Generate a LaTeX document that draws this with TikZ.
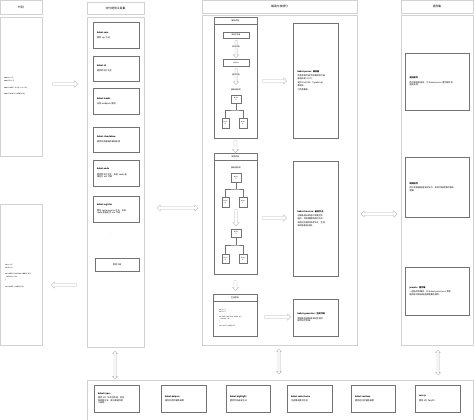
\documentclass[tikz,border=0pt]{standalone}
\usepackage{fontspec}
\setmainfont{Liberation Sans}
\newfontfamily\cjk{Noto Sans CJK SC}
\usetikzlibrary{shapes.arrows,positioning,calc}

\tikzset{
  wh/.style 2 args={minimum width=#1mm,minimum height=#2mm},
  pane/.style={draw=gray!35,line width=2.4pt,inner sep=0pt},
  title/.style={pane,font=\cjk\fontsize{8}{10}\selectfont},
  card/.style={draw=black!55,line width=1.3pt,fill=white,inner sep=0pt,
    align=left,font=\cjk\fontsize{6}{7.5}\selectfont},
  stage/.style={draw=black!55,line width=1.3pt,inner sep=0pt},
  stagehead/.style={stage,font=\cjk\fontsize{5.5}{6}\selectfont},
  treenode/.style={draw=black!55,line width=1.1pt,fill=white,inner sep=0pt,
    align=center,font=\cjk\fontsize{4.5}{5}\selectfont},
  small/.style={inner sep=0.3mm,font=\cjk\fontsize{5.5}{6}\selectfont},
  code/.style={align=left,inner sep=0pt,font=\cjk\fontsize{5.5}{8}\selectfont},
  tree/.style={draw=black!55,line width=1.1pt},
  fat arrow/.style={single arrow,draw=gray!60,line width=1pt,fill=white,
    inner sep=1.3mm,single arrow head extend=1.8mm},
  fat both/.style={double arrow,draw=gray!60,line width=1pt,fill=white,
    inner sep=1.3mm,double arrow head extend=1.8mm},
  slim both/.style={fat both,inner sep=0.9mm,double arrow head extend=1.3mm,
    shape border rotate=90}
}

\begin{document}
\begin{tikzpicture}[x=1mm,y=-1mm]
  \clip (0,0) rectangle (474,419);

  % column: code
  \node[title,wh={42}{14}] (codehd) at (21,7) {代码};
  \node[pane,wh={42}{139}] (srcpane) at (21,86.5) {};
  \node[code,anchor=west] (srctxt) at (4,86) {const a = 1;\\const b = 2;\\[4.2mm]
    const add = (a, b) => a + b;\\[3.2mm]const result = add(a, b);};
  \node[pane,wh={42}{141}] (outpane) at (21,274.5) {};
  \node[code,anchor=west] (outtxt) at (5,276) {var a = 1;\\var b = 2;\\[3.2mm]
    var add = function add(a, b) \{\\\ \ \ return a + b;\\\}\\[4.2mm]var result = add(a, b);};

  % column: tools
  \node[title,wh={57}{12}] (toolhd) at (115.5,8) {对外提供工具集};
  \node[pane,wh={57}{330}] (toolpane) at (115.5,182) {};
  \node[card,wh={46}{26},text width=38mm] (core) at (116,35)
    {\textbf{babel-core}\\[2.5mm]提供 api 方法};
  \node[card,wh={46}{25},text width=38mm] (cli) at (116,68.5)
    {\textbf{babel-cli}\\[2.5mm]提供命令行交互};
  \node[card,wh={46}{26},text width=38mm] (loader) at (116,101)
    {\textbf{babel-loader}\\[2.5mm]支持 webpack 使用};
  \node[card,wh={46}{25},text width=38mm] (standalone) at (116,139.5)
    {\textbf{babel-standalone}\\[2.5mm]提供浏览器端的编译支持};
  \node[card,wh={46}{26},text width=38mm] (bnode) at (116,173)
    {\textbf{babel-node}\\[2.5mm]提供命令行交互，支持 node 直\\接运行 es6 代码};
  \node[card,wh={46}{26},text width=38mm] (register) at (116,209)
    {\textbf{babel-register}\\[2.5mm]重写 node require 方法，支持\\node 直接运行 es6 代码};
  \node[small] (more) at (110,235) {...};
  \node[card,wh={44}{13},align=center] (other) at (117,264.5) {其他工具};

  % column: compiler core
  \node[title,wh={155}{13}] (corehd) at (279.5,6.5) {编译内核部分};
  \node[pane,wh={155}{330}] (corepane) at (279.5,180) {};

  % parse stage
  \node[stage,wh={43}{121}] (parse) at (235.5,77.5) {};
  \node[stagehead,wh={43}{7}] (parsehd) at (235.5,20.5) {解析阶段};
  \node[card,wh={26}{6},align=center,font=\cjk\fontsize{5}{6}\selectfont] (src) at (236,35) {源码字符串};
  \node[fat arrow,inner sep=0.9mm,single arrow head extend=1.6mm,
    minimum height=17mm,shape border rotate=270] (lex) at (236,48.5) {};
  \node[small,fill=white] (lexlbl) at (236,47) {词法分析};
  \node[card,wh={26}{7},align=center,font=\cjk\fontsize{5}{6}\selectfont] (tokens) at (236,62.5) {tokens};
  \node[fat arrow,inner sep=0.9mm,single arrow head extend=1.6mm,
    minimum height=16mm,shape border rotate=270] (syn) at (236,76) {};
  \node[small,fill=white] (synlbl) at (236,75) {语法分析};
  \node[small] (ast1) at (236,90) {抽象语法树};
  \node[treenode,wh={10}{8}] (na1) at (236,99) {Node\\A};
  \node[treenode,wh={7.5}{10}] (nb1) at (225.5,123) {Node\\B};
  \node[treenode,wh={7.5}{10}] (nc1) at (243,123) {Node\\C};
  \draw[tree] (na1.south) -- (na1.south |- 0,110) coordinate (bar1);
  \draw[tree] (nb1.north) |- (bar1) -| (nc1.north);

  \node[fat arrow,minimum height=12mm,shape border rotate=270] (p2t) at (235.5,146) {};

  % transform stage
  \node[stage,wh={43}{121}] (trans) at (235.5,213.5) {};
  \node[stagehead,wh={43}{7}] (transhd) at (235.5,156.5) {转换阶段};
  \node[small] (ast2) at (236,168) {抽象语法树};
  \node[treenode,wh={10}{9}] (na2) at (236,177.5) {Node\\A};
  \node[treenode,wh={7.5}{10}] (nb2) at (225.5,202) {Node\\B};
  \node[treenode,wh={7.5}{10}] (nc2) at (243,202) {Node\\C};
  \draw[tree] (na2.south) -- (na2.south |- 0,189) coordinate (bar2);
  \draw[tree] (nb2.north) |- (bar2) -| (nc2.north);
  \node[fat arrow,minimum height=16mm,shape border rotate=270] (modify) at (236,217) {};
  \node[treenode,wh={10}{8}] (na3) at (236,233) {Node\\A};
  \node[treenode,wh={7.5}{9}] (nb3) at (225.5,258.5) {Node\\B};
  \node[treenode,wh={7.5}{9}] (nc3) at (243,258.5) {Node\\C};
  \draw[tree] (na3.south) -- (na3.south |- 0,245) coordinate (bar3);
  \draw[tree] (nb3.north) |- (bar3) -| (nc3.north);

  \node[fat arrow,minimum height=10mm,shape border rotate=270] (t2g) at (235.5,285) {};

  % generate stage
  \node[stage,wh={44}{42}] (gen) at (235,315) {};
  \node[stagehead,wh={44}{7}] (genhd) at (235,297.5) {生成阶段};
  \node[code,anchor=west,font=\cjk\fontsize{4.8}{6.5}\selectfont] (gentxt) at (219,318)
    {var a = 1;\\var b = 2;\\[2.4mm]var add = function add(a, b) \{\\\ \ \ return a + b;\\\}\\[2.4mm]var result = add(a, b);};

  % core packages
  \node[card,wh={45}{115},text width=36mm] (parser) at (315.5,80.5)
    {\textbf{babel-parser: 解析器}\\[1.8mm]负责将源代码字符串转换为抽\\象语法树 (AST)。\\[1.8mm]
     支持 ES6/JSX、TypeScript\\等语法。\\[1.8mm]只负责解析。};
  \node[card,wh={45}{115},text width=36mm] (traverse) at (315.5,218.5)
    {\textbf{babel-traverse: 遍历节点}\\[1.8mm]对抽象语法树进行深度优先\\遍历，找到需要修改的节点。\\[1.8mm]
     调用对应插件修改节点，生成\\新的抽象语法树。};
  \node[card,wh={45}{37},text width=36mm] (generator) at (315.5,317.5)
    {\textbf{babel-generator: 生成代码}\\[1.8mm]根据新的抽象语法树生成目\\标代码字符串。};
  \node[fat arrow,minimum height=24mm] (toparser) at (274,81) {};
  \node[fat arrow,minimum height=24mm] (totraverse) at (274,218) {};
  \node[fat arrow,minimum height=26mm] (togenerator) at (277,317) {};

  % column: plugins
  \node[title,wh={72}{13}] (plughd) at (437,6.5) {插件集};
  \node[pane,wh={72}{330}] (plugpane) at (437,180) {};
  \node[card,wh={64}{57},text width=55mm] (synplug) at (437,81.5)
    {\textbf{语法插件}\\[1.8mm]用于解析新语法，为 babel-parser 提供额外的\\语法支持。};
  \node[card,wh={64}{60},text width=55mm] (transplug) at (437,187)
    {\textbf{转换插件}\\[1.8mm]用于转换抽象语法树节点，实现代码转换的具体\\逻辑。};
  \node[card,wh={64}{48},text width=55mm] (presets) at (437,291)
    {\textbf{presets: 插件集}\\[1.8mm]一组插件的集合，如 babel-preset-env 会根\\据目标环境自动选择需要的插件。};

  % bottom: helpers
  \node[pane,wh={386}{60}] (helppane) at (280,410) {};
  \node[card,wh={45}{27},text width=37mm] (types) at (116.5,398.5)
    {\textbf{babel-types}\\[1.2mm]提供 AST 节点的构造、验证\\和转换方法，是开发插件的\\工具库。};
  \node[card,wh={45}{27},text width=37mm] (helpers) at (183.5,398.5)
    {\textbf{babel-helpers}\\[1.8mm]插件共用的辅助函数};
  \node[card,wh={44}{27},text width=36mm] (highlight) at (248,398.5)
    {\textbf{babel-highlight}\\[1.8mm]提供代码高亮方法};
  \node[card,wh={45}{27},text width=37mm] (codeframe) at (309.5,398.5)
    {\textbf{babel-code-frame}\\[1.8mm]生成错误提示信息};
  \node[card,wh={44}{27},text width=36mm] (runtime) at (373,398.5)
    {\textbf{babel-runtime}\\[1.8mm]提供运行时辅助函数};
  \node[card,wh={45}{27},text width=37mm] (corejs) at (437.5,398.5)
    {\textbf{core-js}\\[1.8mm]提供 API Polyfill};

  % arrows between columns
  \node[fat arrow,minimum height=25mm] (code2tools) at (64.5,84) {};
  \node[fat arrow,minimum height=25mm,shape border rotate=180] (tools2code) at (64.5,285) {};
  \node[fat both,minimum height=41mm] (tools2core) at (177.5,208) {};
  \node[fat both,minimum height=36mm] (core2plug) at (379,214) {};
  \node[slim both,minimum height=28mm] (tools2help) at (115,365) {};
  \node[slim both,minimum height=25mm] (core2help) at (279,361.5) {};
  \node[slim both,minimum height=25mm] (plug2help) at (438,362.5) {};
\end{tikzpicture}
\end{document}
